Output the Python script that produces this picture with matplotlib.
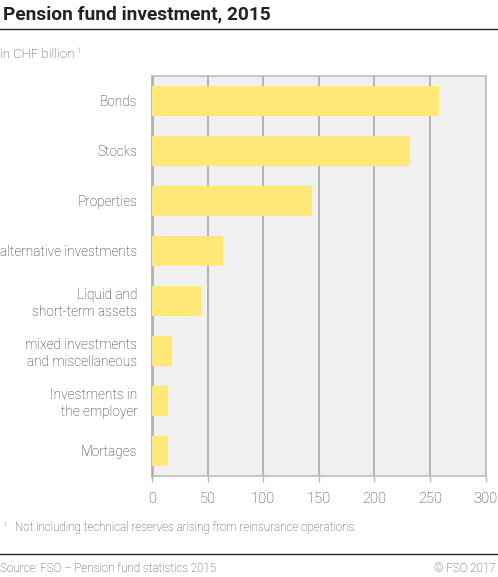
import matplotlib
matplotlib.use("Agg")
from matplotlib import pyplot as plt
from matplotlib.lines import Line2D

# investment categories (top to bottom) and values in CHF billion
categories = ["Bonds", "Stocks", "Properties", "alternative investments",
              "Liquid and\nshort-term assets", "mixed investments\nand miscellaneous",
              "Investments in\nthe employer", "Mortages"]
values = [258, 232, 144, 64, 44, 18, 14, 14]
xticks = [0, 50, 100, 150, 200, 250, 300]

plt.rcParams['font.family'] = ['Roboto', 'DejaVu Sans']
plt.rcParams['font.weight'] = 'light'

W, H = 498, 577
fig = plt.figure(figsize=(W / 100, H / 100), dpi=100)

# plot area in pixel coordinates
left, right, top, bottom = 152, 485.5, 75.5, 475.5
ax = fig.add_axes([left / W, 1 - bottom / H, (right - left) / W, (bottom - top) / H])
ax.set_facecolor('#f0f0f0')

y = list(range(len(categories)))
ax.barh(y, values, height=0.6, color='#ffe878', zorder=3)

ax.set_xlim(0, 300)
ax.set_ylim(len(categories) - 0.5, -0.5)
ax.set_xticks(xticks)
ax.set_xticklabels([str(t) for t in xticks])
ax.set_yticks(y)
ax.set_yticklabels(categories, linespacing=1.3)
ax.grid(axis='x', color='#a8a8a8', linewidth=1.2, zorder=1)

ax.tick_params(axis='x', length=4, width=1, color='#b8b8b8', pad=8,
               labelsize=10.5, labelcolor='#333333')
ax.tick_params(axis='y', length=0, pad=10.5, labelsize=9.8, labelcolor='#2a2a2a')
for lab in ax.get_yticklabels():
    lab.set_horizontalalignment('right')
    lab.set_multialignment('right')

for side in ['top', 'right', 'bottom']:
    ax.spines[side].set_color('#bdbdbd')
    ax.spines[side].set_linewidth(1.2)
ax.spines['left'].set_color('#b0b0b0')
ax.spines['left'].set_linewidth(2)

# title, rules and notes
fig.text(3 / W, 1 - 14 / H, "Pension fund investment, 2015", fontsize=13.8,
         fontweight='bold', color='#222222', va='center', ha='left')
fig.add_artist(Line2D([0, 1], [1 - 28.5 / H] * 2, color='#222222', linewidth=1))
fig.text(0, 1 - 55 / H, "in CHF billion", fontsize=9.5, color='#444444',
         va='center', ha='left')
fig.text(76 / W, 1 - 51 / H, "1", fontsize=6, color='#444444', va='center', ha='left')

fig.text(2 / W, 1 - 525 / H, "1", fontsize=6, color='#444444', va='center')
fig.text(15 / W, 1 - 527 / H, "Not including technical reserves arising from reinsurance operations.",
         fontsize=8.4, color='#444444', va='center', ha='left')
fig.add_artist(Line2D([0, 1], [1 - 553.5 / H] * 2, color='#222222', linewidth=1))
fig.text(0, 1 - 568 / H, "Source: FSO \u2013 Pension fund statistics 2015", fontsize=8.4,
         color='#444444', va='center', ha='left')
fig.text(1 - 2 / W, 1 - 568 / H, "\u00a9 FSO 2017", fontsize=8.4, color='#444444',
         va='center', ha='right')

fig.savefig('out.png', dpi=100)
